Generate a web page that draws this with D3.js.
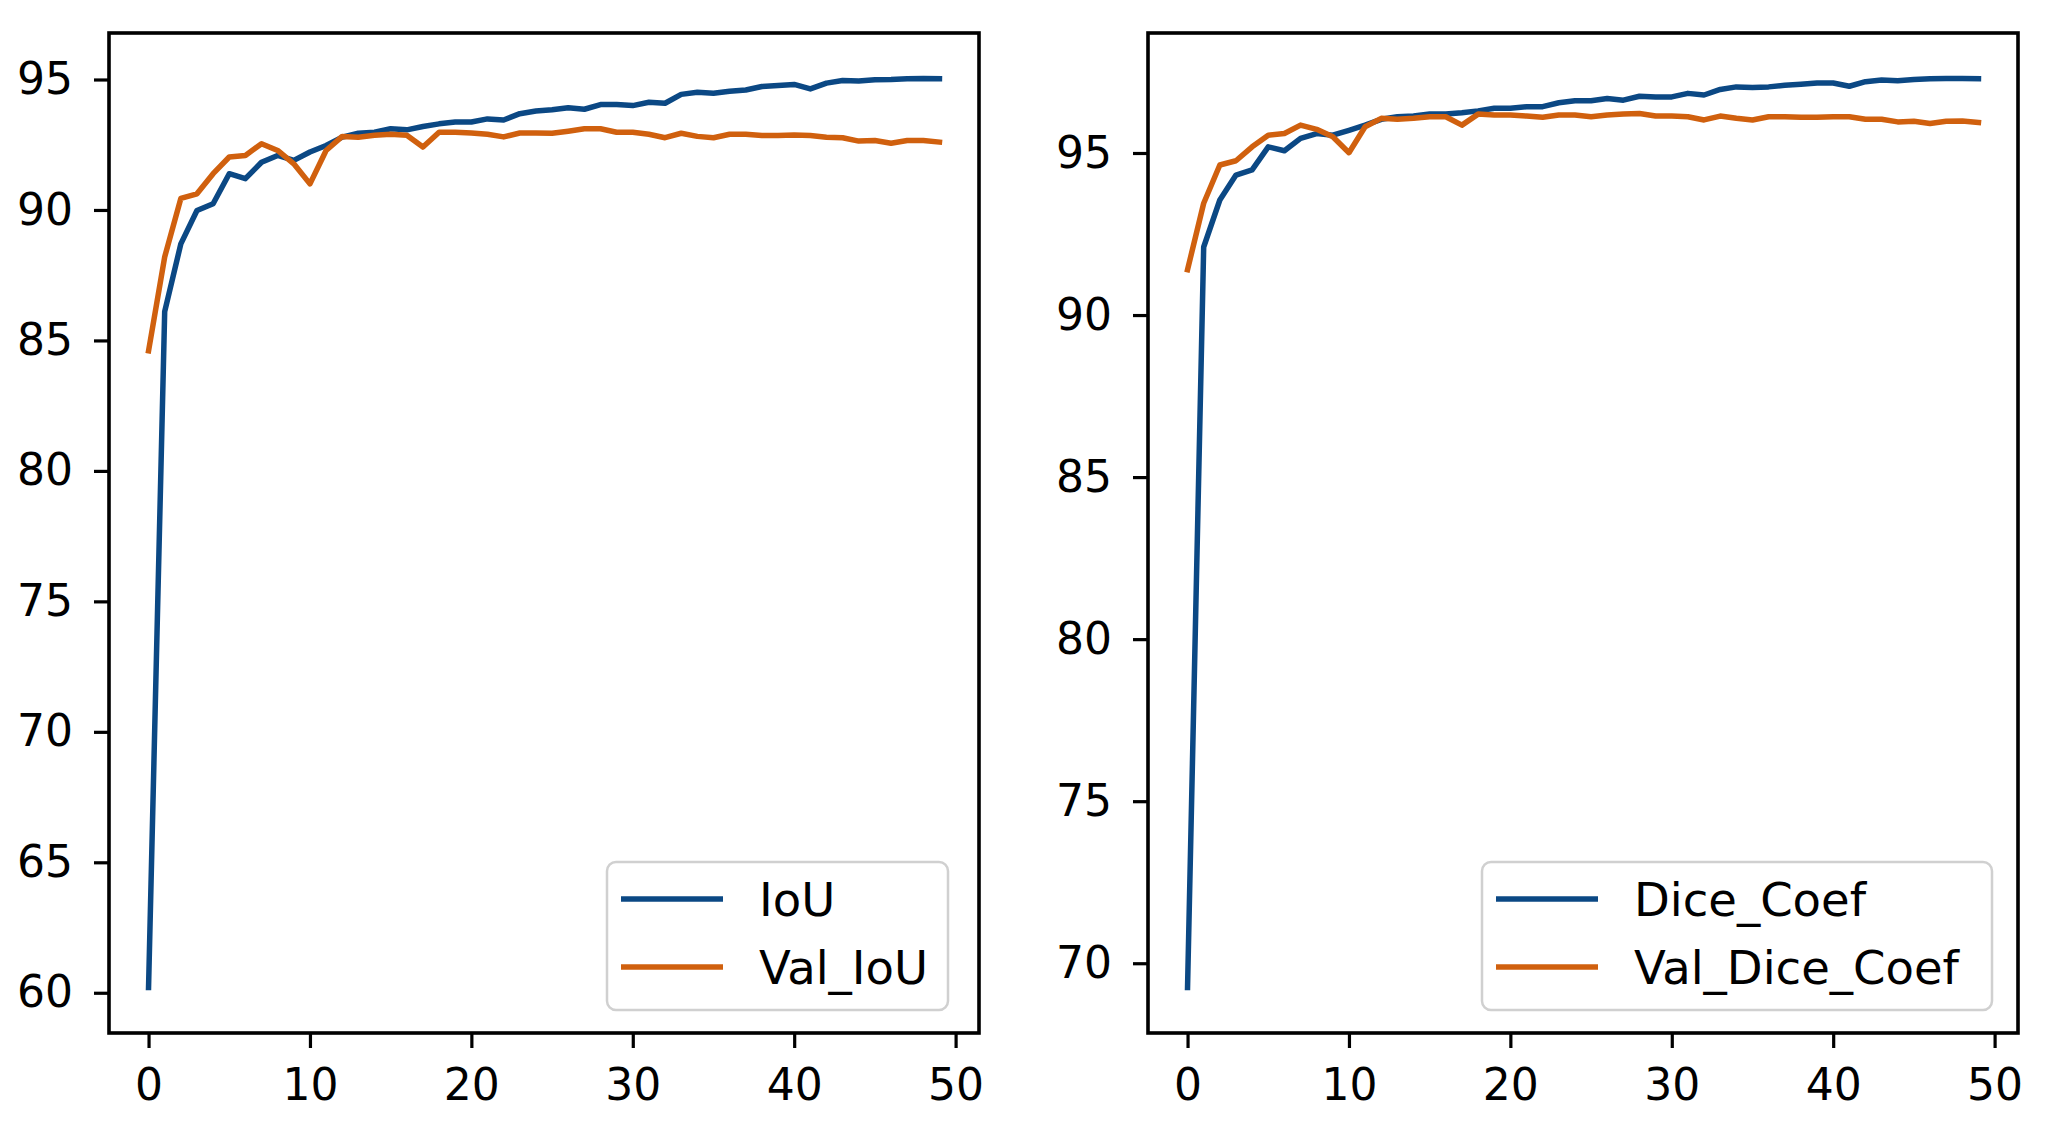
<!DOCTYPE html>
<html>
<head>
<meta charset="utf-8">
<script src="https://cdn.jsdelivr.net/npm/d3@7"></script>
<style>
  html, body { margin: 0; padding: 0; background: #fff; }
  svg { display: block; font-family: "DejaVu Sans", sans-serif; }
</style>
</head>
<body>
<svg id="chart" width="2046" height="1133"></svg>
<script>
// ---- data ----
const epochs = d3.range(50);
const iou = [60.2, 86.1, 88.7, 89.98, 90.24, 91.39, 91.2, 91.83, 92.09, 91.9,
  92.22, 92.47, 92.79, 92.94, 92.98, 93.11, 93.07, 93.2, 93.3, 93.37,
  93.37, 93.49, 93.45, 93.69, 93.79, 93.84, 93.92, 93.86, 94.04, 94.04,
  94.0, 94.13, 94.09, 94.43, 94.51, 94.47, 94.55, 94.6, 94.73, 94.77,
  94.81, 94.64, 94.86, 94.96, 94.94, 94.99, 95.0, 95.03, 95.04, 95.03];
const valIou = [84.6, 88.2, 90.44, 90.62, 91.39, 92.03, 92.09, 92.54, 92.28, 91.77,
  91.0, 92.28, 92.82, 92.79, 92.86, 92.9, 92.86, 92.41, 92.98, 92.98,
  92.95, 92.9, 92.8, 92.95, 92.95, 92.94, 93.02, 93.11, 93.11, 92.98,
  92.98, 92.9, 92.77, 92.94, 92.82, 92.77, 92.9, 92.9, 92.85, 92.85,
  92.87, 92.85, 92.79, 92.77, 92.64, 92.66, 92.56, 92.66, 92.66, 92.6];
const dice = [69.25, 92.1, 93.55, 94.32, 94.48, 95.19, 95.07, 95.45, 95.6, 95.55,
  95.7, 95.86, 96.04, 96.12, 96.14, 96.2, 96.2, 96.24, 96.3, 96.38,
  96.38, 96.43, 96.43, 96.55, 96.61, 96.61, 96.68, 96.63, 96.75, 96.73,
  96.73, 96.84, 96.79, 96.96, 97.04, 97.02, 97.04, 97.09, 97.12, 97.16,
  97.16, 97.06, 97.2, 97.25, 97.23, 97.27, 97.29, 97.3, 97.3, 97.29];
const valDice = [91.4, 93.45, 94.63, 94.76, 95.19, 95.55, 95.6, 95.86, 95.73, 95.5,
  95.01, 95.81, 96.07, 96.04, 96.07, 96.12, 96.12, 95.86, 96.2, 96.17,
  96.17, 96.14, 96.1, 96.17, 96.17, 96.12, 96.17, 96.2, 96.22, 96.14,
  96.14, 96.12, 96.02, 96.14, 96.07, 96.02, 96.12, 96.12, 96.1, 96.1,
  96.12, 96.12, 96.04, 96.04, 95.96, 95.98, 95.91, 95.98, 95.99, 95.94];
const xTicks = [0, 10, 20, 30, 40, 50];
const yTicksLeft = [60, 65, 70, 75, 80, 85, 90, 95];
const yTicksRight = [70, 75, 80, 85, 90, 95];
const labelsLeft = ["IoU", "Val_IoU"];
const labelsRight = ["Dice_Coef", "Val_Dice_Coef"];

const BLUE = "#0b4884";
const ORANGE = "#d0600e";

const svg = d3.select("#chart");
svg.append("rect").attr("width", 2046).attr("height", 1133).attr("fill", "#fff");

function panel(cfg) {
  const { x0, x1, y0, y1, train, val, yTicks, labels, legend } = cfg;
  const all = train.concat(val);
  const [mn, mx] = d3.extent(all);
  const pad = (mx - mn) * 0.05;
  const xPad = (epochs[epochs.length - 1] - epochs[0]) * 0.05;
  const x = d3.scaleLinear().domain([epochs[0] - xPad, epochs[epochs.length - 1] + xPad]).range([x0, x1]);
  const y = d3.scaleLinear().domain([mn - pad, mx + pad]).range([y1, y0]);
  const g = svg.append("g");

  const line = d3.line().x((d, i) => x(epochs[i])).y(d => y(d));
  g.append("path").datum(train).attr("d", line)
    .attr("fill", "none").attr("stroke", BLUE).attr("stroke-width", 5.5)
    .attr("stroke-linejoin", "round").attr("stroke-linecap", "square");
  g.append("path").datum(val).attr("d", line)
    .attr("fill", "none").attr("stroke", ORANGE).attr("stroke-width", 5.5)
    .attr("stroke-linejoin", "round").attr("stroke-linecap", "square");

  // axes
  const xAxis = d3.axisBottom(x).tickValues(xTicks).tickSize(15).tickPadding(21).tickSizeOuter(0);
  const gx = g.append("g").attr("transform", `translate(0,${y1})`).call(xAxis);
  const yAxis = d3.axisLeft(y).tickValues(yTicks).tickSize(15).tickPadding(21).tickSizeOuter(0);
  const gy = g.append("g").attr("transform", `translate(${x0},0)`).call(yAxis);
  [gx, gy].forEach(a => {
    a.select(".domain").remove();
    a.selectAll(".tick line").attr("stroke", "#000").attr("stroke-width", 3.2);
    a.selectAll(".tick text").attr("fill", "#000").style("font-size", "44px")
      .style("font-family", "'DejaVu Sans', sans-serif");
  });
  gx.selectAll(".tick text").attr("dy", "0.71em");

  // frame
  g.append("rect").attr("x", x0).attr("y", y0).attr("width", x1 - x0).attr("height", y1 - y0)
    .attr("fill", "none").attr("stroke", "#000").attr("stroke-width", 3.6);

  // legend
  const lg = g.append("g").attr("transform", `translate(${legend.x},${legend.y})`);
  lg.append("rect").attr("width", legend.w).attr("height", legend.h).attr("rx", 9).attr("ry", 9)
    .attr("fill", "#fff").attr("fill-opacity", 0.8).attr("stroke", "#d0d0d0").attr("stroke-width", 2.5);
  const cols = [BLUE, ORANGE];
  labels.forEach((lab, i) => {
    const yy = 37 + i * 68;
    lg.append("line").attr("x1", 14).attr("x2", 116).attr("y1", yy).attr("y2", yy)
      .attr("stroke", cols[i]).attr("stroke-width", 5.5);
    lg.append("text").attr("x", 152).attr("y", yy).attr("dy", "0.36em")
      .style("font-size", "46.5px").attr("fill", "#000").text(lab);
  });
}

panel({ x0: 109, x1: 979, y0: 33, y1: 1033, train: iou, val: valIou,
  yTicks: yTicksLeft, labels: labelsLeft, legend: { x: 607, y: 862, w: 341, h: 148 } });
panel({ x0: 1148, x1: 2018, y0: 33, y1: 1033, train: dice, val: valDice,
  yTicks: yTicksRight, labels: labelsRight, legend: { x: 1482, y: 862, w: 510, h: 148 } });
</script>
</body>
</html>
